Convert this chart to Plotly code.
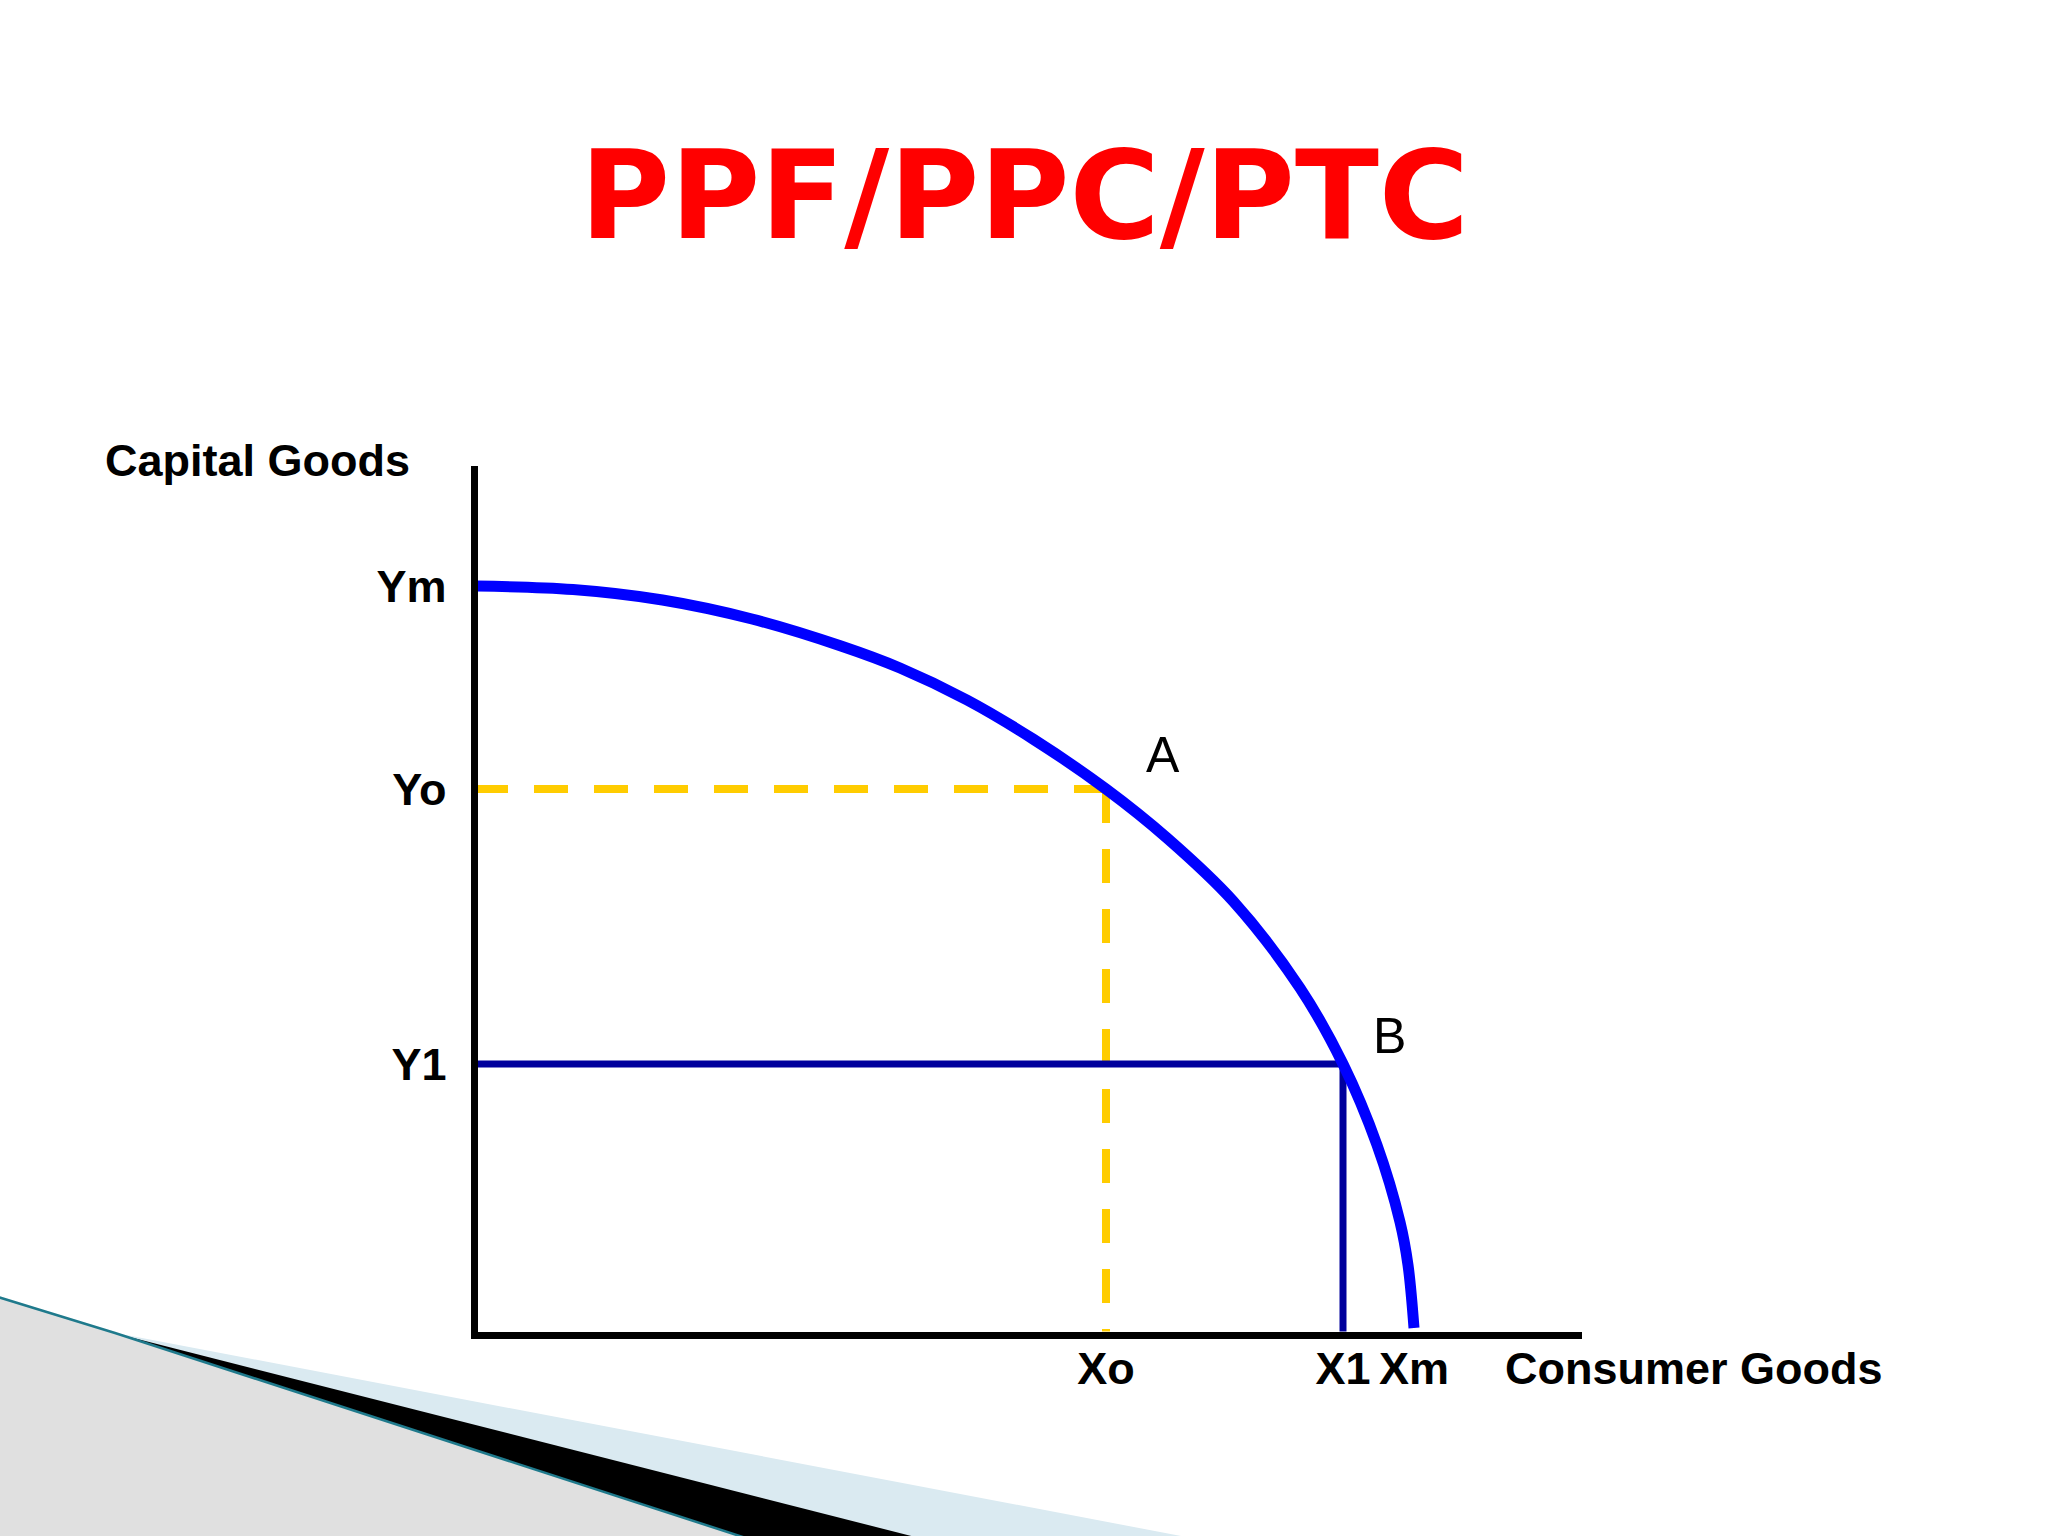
import plotly.graph_objects as go

W, H = 2048, 1536

# ---- data (in chart units) ----
curve_x = [0.1, 9.9, 18.85, 27.8, 36.7, 42.6, 49.3, 55.9, 63.2, 69.3, 75.9, 82.6,
           86.9, 90.3, 92.6, 93.4, 94.0]
curve_y = [74.9, 74.55, 73.5, 71.6, 68.9, 66.7, 63.5, 59.6, 54.6, 49.7, 43.4, 34.7,
           27.1, 19.0, 11.3, 7.0, 0.7]

x_ticks = [63.2, 86.9, 94.0]
x_labels = ["Xo", "X1", "Xm"]
y_ticks = [74.9, 54.6, 27.1]
y_labels = ["Ym", "Yo", "Y1"]

point_names = ["A", "B"]
point_x = [63.2, 86.9]
point_y = [54.6, 27.1]

X_RANGE = [0.35, 110.8]
Y_RANGE = [0.35, 86.9]

# ---- layout helpers (figure pixels -> paper fractions) ----
def px(x):
    return x / W

def py(y):
    return 1 - y / H

fig = go.Figure()

# yellow dashed guide lines to point A
xo, yo = point_x[0], point_y[0]
fig.add_trace(go.Scatter(x=[0, xo], y=[yo, yo], mode="lines",
                         line=dict(color="#FFCC00", width=8, dash="34px,26px"),
                         hoverinfo="skip"))
fig.add_trace(go.Scatter(x=[xo, xo], y=[yo, 0], mode="lines",
                         line=dict(color="#FFCC00", width=8, dash="34px,26px"),
                         hoverinfo="skip"))

# navy guide lines to point B
x1, y1 = point_x[1], point_y[1]
fig.add_trace(go.Scatter(x=[0, x1, x1], y=[y1, y1, 0], mode="lines",
                         line=dict(color="#00009C", width=7),
                         hoverinfo="skip"))

# PPF curve
fig.add_trace(go.Scatter(x=curve_x, y=curve_y, mode="lines",
                         line=dict(color="#0000FF", width=11, shape="spline", smoothing=1.0),
                         hoverinfo="skip"))

# ---- decorative template art (bottom-left) ----
shapes = []
def poly(pts, fill):
    path = "M " + " L ".join(f"{px(a):.5f},{py(b):.5f}" for a, b in pts) + " Z"
    return dict(type="path", path=path, xref="paper", yref="paper",
                fillcolor=fill, line=dict(color=fill, width=0), layer="below")

shapes.append(poly([(100, 1330), (1202, 1540), (760, 1540)], "#DAEAF1"))
shapes.append(poly([(110, 1332), (927, 1540), (750, 1540)], "#000000"))
shapes.append(poly([(-2, 1297), (115, 1333), (752, 1540), (-2, 1540)], "#E0E0E0"))
shapes.append(dict(type="path",
                   path=f"M {px(-2)},{py(1297)} L {px(115)},{py(1333)} L {px(752)},{py(1540)}",
                   xref="paper", yref="paper", line=dict(color="#1F7A8C", width=2.5), layer="below"))

annotations = [
    dict(text="PPF/PPC/PTC", x=0.5, y=py(196), xref="paper", yref="paper",
         xanchor="center", yanchor="middle", showarrow=False,
         font=dict(family="DejaVu Sans", size=123, color="#FF0000", weight="bold")),
    dict(text="Capital Goods", x=px(103), y=py(460), xref="paper", yref="paper",
         xanchor="left", yanchor="middle", showarrow=False,
         font=dict(family="Liberation Sans", size=45, color="#000000", weight="bold")),
    dict(text="Consumer Goods", x=px(1503), y=py(1368), xref="paper", yref="paper",
         xanchor="left", yanchor="middle", showarrow=False,
         font=dict(family="Liberation Sans", size=45, color="#000000", weight="bold")),
]
# point labels A, B
for name, xv, yv, dx, dy in zip(point_names, point_x, point_y, [57, 46], [34, 28]):
    annotations.append(dict(text=name, x=xv, y=yv, xref="x", yref="y",
                            xshift=dx, yshift=dy, showarrow=False,
                            xanchor="center", yanchor="middle",
                            font=dict(family="Liberation Sans", size=50, color="#000000")))

fig.update_layout(
    width=W, height=H,
    margin=dict(l=0, r=0, t=0, b=0),
    paper_bgcolor="white", plot_bgcolor="white",
    showlegend=False, hovermode=False,
    shapes=shapes, annotations=annotations,
    xaxis=dict(domain=[477.5 / W, 1582 / W], range=X_RANGE,
               showgrid=False, zeroline=False,
               showline=True, linecolor="black", linewidth=7,
               tickmode="array", tickvals=x_ticks, ticktext=x_labels, ticks="",
               ticklabelstandoff=-9,
               tickfont=dict(family="Liberation Sans", size=45, color="black", weight="bold")),
    yaxis=dict(domain=[1 - 1331.5 / H, 1 - 466 / H], range=Y_RANGE,
               showgrid=False, zeroline=False,
               showline=True, linecolor="black", linewidth=7,
               tickmode="array", tickvals=y_ticks, ticktext=y_labels, ticks="",
               ticklabelstandoff=15,
               tickfont=dict(family="Liberation Sans", size=45, color="black", weight="bold")),
)

fig.write_html("out.html", config={"displayModeBar": False},
               post_script="document.body.style.margin='0';document.body.style.overflow='hidden';")
